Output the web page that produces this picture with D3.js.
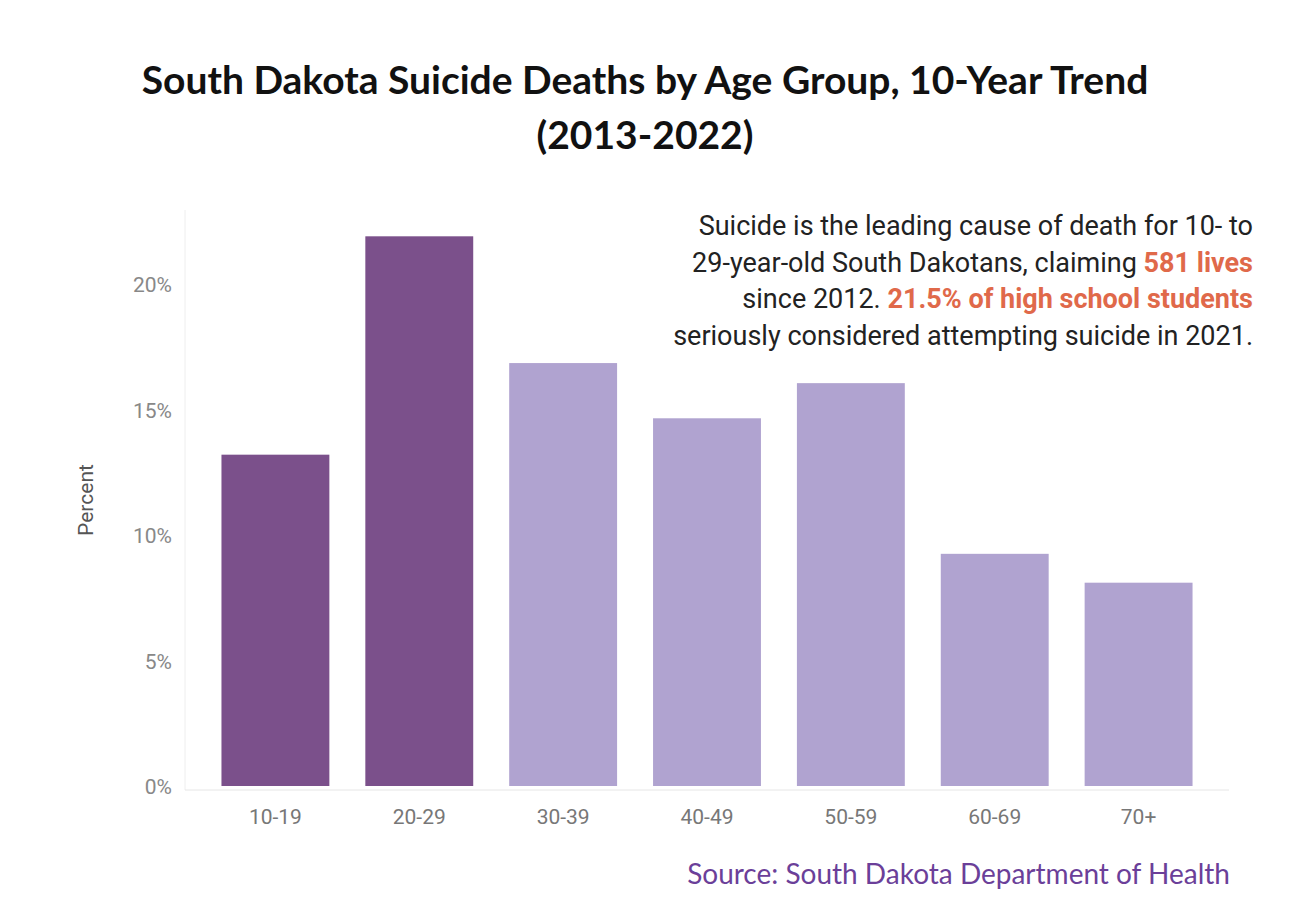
<!DOCTYPE html>
<html><head><meta charset="utf-8">
<script src="https://cdn.jsdelivr.net/npm/d3@7"></script>
<style>body{margin:0;background:#fff}</style>
</head><body><div id="chart-area"></div>
<script>
let width = 1295, height = 914;

// data
let ageGroups = ["10-19","20-29","30-39","40-49","50-59","60-69","70+"];
let percents = [13.2, 21.9, 16.85, 14.65, 16.05, 9.25, 8.1];
let highlight = [true, true, false, false, false, false, false];
let yTicks = [0, 5, 10, 15, 20];

let svg = d3.select("#chart-area").append("svg")
	.attr("width", width).attr("height", height);

let x = d3.scaleBand().domain(ageGroups).range([185.5, 1228.5]).padding(0.25);
let y = d3.scaleLinear().domain([0, 20]).range([786, 284]);

// title
svg.selectAll(".title").data(["South Dakota Suicide Deaths by Age Group, 10-Year Trend", "(2013-2022)"])
	.enter().append("text")
	.attr("x", 645).attr("y", (d,i)=>94 + i*55)
	.attr("text-anchor", "middle")
	.attr("font-family", "Lato, sans-serif").attr("font-weight", "bold")
	.attr("font-size", 39).attr("fill", "#111")
	.text(d=>d);

// axis lines
svg.append("line").attr("x1", 185).attr("x2", 185).attr("y1", 210).attr("y2", 790)
	.attr("stroke", "#eee");
svg.append("line").attr("x1", 185).attr("x2", 1229).attr("y1", 790).attr("y2", 790)
	.attr("stroke", "#e6e6e6");

svg.selectAll(".ytick").data(yTicks).enter().append("text")
	.attr("x", 172).attr("y", d=>y(d) + 8)
	.attr("text-anchor", "end")
	.attr("font-family", "Roboto, sans-serif").attr("font-size", 21).attr("fill", "#888")
	.text(d=>d + "%");

svg.append("text")
	.attr("transform", "translate(93,500) rotate(-90)")
	.attr("text-anchor", "middle")
	.attr("font-family", "Roboto, sans-serif").attr("font-size", 21).attr("fill", "#555")
	.text("Percent");

// bars
svg.selectAll(".bar").data(percents).enter().append("rect")
	.attr("x", (d,i)=>x(ageGroups[i]))
	.attr("width", x.bandwidth())
	.attr("y", d=>y(d))
	.attr("height", d=>y(0) - y(d))
	.attr("fill", (d,i)=>highlight[i] ? "#7b508b" : "#b0a3d0");

svg.selectAll(".xlab").data(ageGroups).enter().append("text")
	.attr("x", d=>x(d) + x.bandwidth()/2).attr("y", 824)
	.attr("text-anchor", "middle")
	.attr("font-family", "Roboto, sans-serif").attr("font-size", 21).attr("fill", "#777")
	.text(d=>d);

// annotation
let note = svg.append("g").attr("font-family", "Roboto, sans-serif").attr("font-size", 27)
	.attr("fill", "#222").attr("text-anchor", "end");
let lines = [
	[["Suicide is the leading cause of death for 10- to", false]],
	[["29-year-old South Dakotans, claiming ", false], ["581 lives", true]],
	[["since 2012. ", false], ["21.5% of high school students", true]],
	[["seriously considered attempting suicide in 2021.", false]]
];
lines.forEach((ln, i)=>{
	let t = note.append("text").attr("x", 1253).attr("y", 235 + i*36.5);
	ln.forEach(p=>{
		t.append("tspan").text(p[0])
			.attr("font-weight", p[1] ? "bold" : "normal")
			.attr("fill", p[1] ? "#e0694a" : "#222");
	});
});

// source
svg.append("text")
	.attr("x", 1230).attr("y", 884).attr("text-anchor", "end")
	.attr("font-family", "Lato, sans-serif").attr("font-size", 28).attr("fill", "#6b3f99")
	.text("Source: South Dakota Department of Health");
</script>
</body></html>
